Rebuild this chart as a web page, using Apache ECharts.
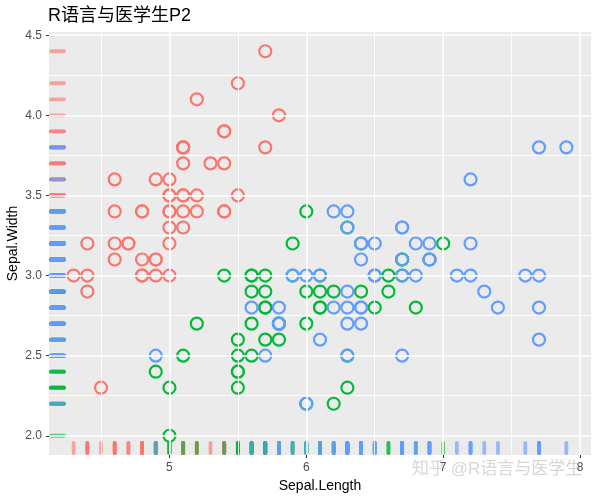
<!DOCTYPE html>
<html>
<head>
<meta charset="utf-8">
<script src="https://cdn.jsdelivr.net/npm/echarts@6/dist/echarts.min.js"></script>
<style>html,body{margin:0;padding:0;background:#fff}#c{width:600px;height:500px}</style>
</head>
<body>
<div id="c"></div>
<script>
const species = ['setosa', 'versicolor', 'virginica'];
const colors = ['#F8766D', '#00BA38', '#619CFF'];
const setosaLength = [5.1,4.9,4.7,4.6,5.0,5.4,4.6,5.0,4.4,4.9,5.4,4.8,4.8,4.3,5.8,5.7,5.4,5.1,5.7,5.1,5.4,5.1,4.6,5.1,4.8,5.0,5.0,5.2,5.2,4.7,4.8,5.4,5.2,5.5,4.9,5.0,5.5,4.9,4.4,5.1,5.0,4.5,4.4,5.0,5.1,4.8,5.1,4.6,5.3,5.0];
const setosaWidth = [3.5,3.0,3.2,3.1,3.6,3.9,3.4,3.4,2.9,3.1,3.7,3.4,3.0,3.0,4.0,4.4,3.9,3.5,3.8,3.8,3.4,3.7,3.6,3.3,3.4,3.0,3.4,3.5,3.4,3.2,3.1,3.4,4.1,4.2,3.1,3.2,3.5,3.6,3.0,3.4,3.5,2.3,3.2,3.5,3.8,3.0,3.8,3.2,3.7,3.3];
const versicolorLength = [7.0,6.4,6.9,5.5,6.5,5.7,6.3,4.9,6.6,5.2,5.0,5.9,6.0,6.1,5.6,6.7,5.6,5.8,6.2,5.6,5.9,6.1,6.3,6.1,6.4,6.6,6.8,6.7,6.0,5.7,5.5,5.5,5.8,6.0,5.4,6.0,6.7,6.3,5.6,5.5,5.5,6.1,5.8,5.0,5.6,5.7,5.7,6.2,5.1,5.7];
const versicolorWidth = [3.2,3.2,3.1,2.3,2.8,2.8,3.3,2.4,2.9,2.7,2.0,3.0,2.2,2.9,2.9,3.1,3.0,2.7,2.2,2.5,3.2,2.8,2.5,2.8,2.9,3.0,2.8,3.0,2.9,2.6,2.4,2.4,2.7,2.7,3.0,3.4,3.1,2.3,3.0,2.5,2.6,3.0,2.6,2.3,2.7,3.0,2.9,2.9,2.5,2.8];
const virginicaLength = [6.3,5.8,7.1,6.3,6.5,7.6,4.9,7.3,6.7,7.2,6.5,6.4,6.8,5.7,5.8,6.4,6.5,7.7,7.7,6.0,6.9,5.6,7.7,6.3,6.7,7.2,6.2,6.1,6.4,7.2,7.4,7.9,6.4,6.3,6.1,7.7,6.3,6.4,6.0,6.9,6.7,6.9,5.8,6.8,6.7,6.7,6.3,6.5,6.2,5.9];
const virginicaWidth = [3.3,2.7,3.0,2.9,3.0,3.0,2.5,2.9,2.5,3.6,3.2,2.7,3.0,2.5,2.8,3.2,3.0,3.8,2.6,2.2,3.2,2.8,2.8,2.7,3.3,3.2,2.8,3.0,2.8,3.0,2.8,3.8,2.8,2.8,2.6,3.0,3.4,3.1,3.0,3.1,3.1,3.1,2.7,3.2,3.3,3.0,2.5,3.0,3.4,3.0];
const xTicks = [5, 6, 7, 8];
const xMinor = [4.5, 5.5, 6.5, 7.5];
const yTicks = [2.0, 2.5, 3.0, 3.5, 4.0, 4.5];
const yMinor = [2.25, 2.75, 3.25, 3.75, 4.25];

const lengths = [setosaLength, versicolorLength, virginicaLength];
const widths = [setosaWidth, versicolorWidth, virginicaWidth];
const FONT = 'Liberation Sans, Arial, Noto Sans CJK SC, sans-serif';

const chart = echarts.init(document.getElementById('c'));
const series = [];

// gridlines
series.push({
  type: 'line', data: [], silent: true, z: 1,
  markLine: {
    silent: true, symbol: 'none', animation: false, label: {show: false},
    data: [
      ...xMinor.map(v => ({xAxis: v, lineStyle: {color: '#fff', width: 1, type: 'solid', opacity: 0.9}})),
      ...yMinor.map(v => ({yAxis: v, lineStyle: {color: '#fff', width: 1, type: 'solid', opacity: 0.9}})),
      ...xTicks.map(v => ({xAxis: v, lineStyle: {color: '#fff', width: 1.6, type: 'solid'}})),
      ...yTicks.map(v => ({yAxis: v, lineStyle: {color: '#fff', width: 1.6, type: 'solid'}}))
    ]
  }
});

species.forEach((sp, i) => {
  const pts = lengths[i].map((x, j) => [x, widths[i][j]]);
  // left rug
  series.push({
    type: 'custom', name: sp + '_rugY', z: 3, silent: true,
    data: pts,
    renderItem: function (params, api) {
      const y = api.coord([api.value(0), api.value(1)])[1];
      const x0 = params.coordSys.x;
      return {type: 'line', shape: {x1: x0 + 2, y1: y, x2: x0 + 15, y2: y},
        style: {stroke: colors[i], lineWidth: 3.8, lineCap: 'round', opacity: 0.62}};
    }
  });
  // bottom rug
  series.push({
    type: 'custom', name: sp + '_rugX', z: 3, silent: true,
    data: pts,
    renderItem: function (params, api) {
      const x = api.coord([api.value(0), api.value(1)])[0];
      const yb = params.coordSys.y + params.coordSys.height;
      return {type: 'line', shape: {x1: x, y1: yb - 2, x2: x, y2: yb - 12},
        style: {stroke: colors[i], lineWidth: 3.8, lineCap: 'round', opacity: 0.62}};
    }
  });
});

species.forEach((sp, i) => {
  const pts = lengths[i].map((x, j) => [x, widths[i][j]]);
  series.push({
    type: 'scatter', name: sp, z: 4, data: pts,
    symbol: 'circle', symbolSize: 12,
    itemStyle: {color: 'rgba(0,0,0,0)', borderColor: colors[i], borderWidth: 2.2, opacity: 1}
  });
});

chart.setOption({
  animation: false,
  backgroundColor: '#fff',
  title: {text: 'R语言与医学生P2', left: 43, top: 2,
    textStyle: {fontSize: 18, fontWeight: 'normal', color: '#000', fontFamily: FONT}},
  grid: {left: 49, right: 9, top: 32, bottom: 45, show: true, backgroundColor: '#EBEBEB', borderWidth: 0,
    containLabel: false, outerBoundsMode: 'none'},
  xAxis: {
    type: 'value', min: 4.12, max: 8.08,
    name: 'Sepal.Length', nameLocation: 'middle', nameGap: 24, nameMoveOverlap: false,
    nameTextStyle: {fontSize: 14, color: '#000', fontFamily: FONT},
    axisLine: {show: false},
    axisTick: {show: true, customValues: xTicks, length: 3, lineStyle: {color: '#333', width: 1}},
    axisLabel: {customValues: xTicks, color: '#4D4D4D', fontSize: 12, margin: 7, fontFamily: FONT},
    splitLine: {show: false}
  },
  yAxis: {
    type: 'value', min: 1.88, max: 4.52,
    name: 'Sepal.Width', nameLocation: 'middle', nameGap: 29, nameMoveOverlap: false,
    nameTextStyle: {fontSize: 14, color: '#000', fontFamily: FONT},
    axisLine: {show: false},
    axisTick: {show: true, customValues: yTicks, length: 3, lineStyle: {color: '#333', width: 1}},
    axisLabel: {customValues: yTicks, color: '#4D4D4D', fontSize: 12, margin: 7, fontFamily: FONT,
      formatter: v => Number(v).toFixed(1)},
    splitLine: {show: false}
  },
  graphic: [{
    type: 'text', left: 412, top: 461, z: 10,
    style: {text: '知乎 @R语言与医学生', fontSize: 17, fill: 'rgba(175,175,175,0.5)', fontFamily: FONT}
  }],
  series: series
});
</script>
</body>
</html>
